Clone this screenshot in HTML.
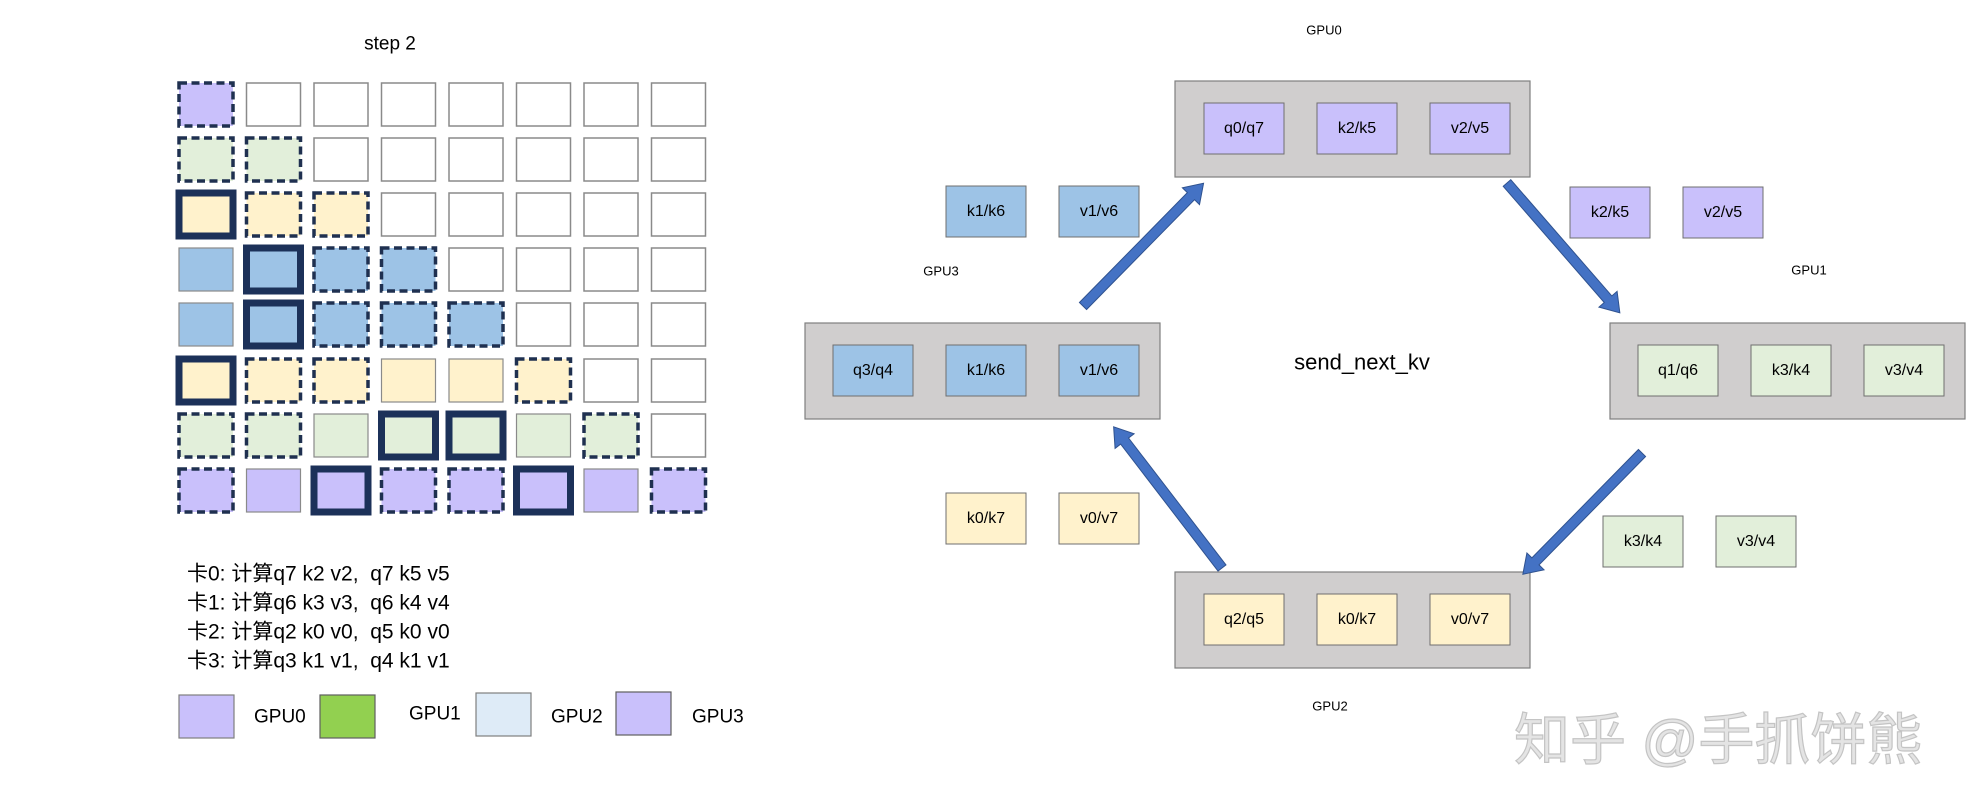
<!DOCTYPE html>
<html><head><meta charset="utf-8"><style>
html,body{margin:0;padding:0;background:#fff;}
svg{display:block;}
text{font-family:"Liberation Sans","Noto Sans CJK SC",sans-serif;fill:#000;}
</style></head><body>
<svg width="1984" height="811" viewBox="0 0 1984 811" xmlns="http://www.w3.org/2000/svg">
<defs>
<style>
.w{fill:#fff;stroke:#8a8a8a;stroke-width:1.5}
.n{stroke:#8a8a8a;stroke-width:1.2}
.d{stroke:#1f3050;stroke-width:3.5;stroke-dasharray:8 4.5}
.t{stroke:#1c3159;stroke-width:7}
.P{fill:#c9c0fb}.G{fill:#e2efda}.Y{fill:#fff2cc}.B{fill:#9dc3e6}
.gb{fill:#d0cece;stroke:#7f7f7f;stroke-width:1.2}
.ib{stroke:#6f6f6f;stroke-width:1}
.lbl{font-size:16px;text-anchor:middle;dominant-baseline:central}
.gl{font-size:13px;text-anchor:middle;dominant-baseline:central}
.ar{fill:#4472c4;stroke:#2f528f;stroke-width:1}
</style>
</defs>
<text x="390" y="44" font-size="19" text-anchor="middle" dominant-baseline="central">step 2</text>
<g>
<rect x="179" y="83" width="54" height="43" class="P d"/>
<rect x="246.5" y="83" width="54" height="43" class="w"/>
<rect x="314" y="83" width="54" height="43" class="w"/>
<rect x="381.5" y="83" width="54" height="43" class="w"/>
<rect x="449" y="83" width="54" height="43" class="w"/>
<rect x="516.5" y="83" width="54" height="43" class="w"/>
<rect x="584" y="83" width="54" height="43" class="w"/>
<rect x="651.5" y="83" width="54" height="43" class="w"/>
<rect x="179" y="138" width="54" height="43" class="G d"/>
<rect x="246.5" y="138" width="54" height="43" class="G d"/>
<rect x="314" y="138" width="54" height="43" class="w"/>
<rect x="381.5" y="138" width="54" height="43" class="w"/>
<rect x="449" y="138" width="54" height="43" class="w"/>
<rect x="516.5" y="138" width="54" height="43" class="w"/>
<rect x="584" y="138" width="54" height="43" class="w"/>
<rect x="651.5" y="138" width="54" height="43" class="w"/>
<rect x="179" y="193" width="54" height="43" class="Y t"/>
<rect x="246.5" y="193" width="54" height="43" class="Y d"/>
<rect x="314" y="193" width="54" height="43" class="Y d"/>
<rect x="381.5" y="193" width="54" height="43" class="w"/>
<rect x="449" y="193" width="54" height="43" class="w"/>
<rect x="516.5" y="193" width="54" height="43" class="w"/>
<rect x="584" y="193" width="54" height="43" class="w"/>
<rect x="651.5" y="193" width="54" height="43" class="w"/>
<rect x="179" y="248" width="54" height="43" class="B n"/>
<rect x="246.5" y="248" width="54" height="43" class="B t"/>
<rect x="314" y="248" width="54" height="43" class="B d"/>
<rect x="381.5" y="248" width="54" height="43" class="B d"/>
<rect x="449" y="248" width="54" height="43" class="w"/>
<rect x="516.5" y="248" width="54" height="43" class="w"/>
<rect x="584" y="248" width="54" height="43" class="w"/>
<rect x="651.5" y="248" width="54" height="43" class="w"/>
<rect x="179" y="303" width="54" height="43" class="B n"/>
<rect x="246.5" y="303" width="54" height="43" class="B t"/>
<rect x="314" y="303" width="54" height="43" class="B d"/>
<rect x="381.5" y="303" width="54" height="43" class="B d"/>
<rect x="449" y="303" width="54" height="43" class="B d"/>
<rect x="516.5" y="303" width="54" height="43" class="w"/>
<rect x="584" y="303" width="54" height="43" class="w"/>
<rect x="651.5" y="303" width="54" height="43" class="w"/>
<rect x="179" y="359" width="54" height="43" class="Y t"/>
<rect x="246.5" y="359" width="54" height="43" class="Y d"/>
<rect x="314" y="359" width="54" height="43" class="Y d"/>
<rect x="381.5" y="359" width="54" height="43" class="Y n"/>
<rect x="449" y="359" width="54" height="43" class="Y n"/>
<rect x="516.5" y="359" width="54" height="43" class="Y d"/>
<rect x="584" y="359" width="54" height="43" class="w"/>
<rect x="651.5" y="359" width="54" height="43" class="w"/>
<rect x="179" y="414" width="54" height="43" class="G d"/>
<rect x="246.5" y="414" width="54" height="43" class="G d"/>
<rect x="314" y="414" width="54" height="43" class="G n"/>
<rect x="381.5" y="414" width="54" height="43" class="G t"/>
<rect x="449" y="414" width="54" height="43" class="G t"/>
<rect x="516.5" y="414" width="54" height="43" class="G n"/>
<rect x="584" y="414" width="54" height="43" class="G d"/>
<rect x="651.5" y="414" width="54" height="43" class="w"/>
<rect x="179" y="469" width="54" height="43" class="P d"/>
<rect x="246.5" y="469" width="54" height="43" class="P n"/>
<rect x="314" y="469" width="54" height="43" class="P t"/>
<rect x="381.5" y="469" width="54" height="43" class="P d"/>
<rect x="449" y="469" width="54" height="43" class="P d"/>
<rect x="516.5" y="469" width="54" height="43" class="P t"/>
<rect x="584" y="469" width="54" height="43" class="P n"/>
<rect x="651.5" y="469" width="54" height="43" class="P d"/>
</g>
<g font-size="21">
<text x="187" y="574" dominant-baseline="central">卡0: 计算q7 k2 v2,&#160; q7 k5 v5</text>
<text x="187" y="603" dominant-baseline="central">卡1: 计算q6 k3 v3,&#160; q6 k4 v4</text>
<text x="187" y="632" dominant-baseline="central">卡2: 计算q2 k0 v0,&#160; q5 k0 v0</text>
<text x="187" y="661" dominant-baseline="central">卡3: 计算q3 k1 v1,&#160; q4 k1 v1</text>
</g>
<rect x="179" y="695" width="55" height="43" fill="#c9c0fb" stroke="#7f7f7f" stroke-width="1.2"/>
<text x="254" y="717" font-size="19" dominant-baseline="central">GPU0</text>
<rect x="320" y="695" width="55" height="43" fill="#92d050" stroke="#5f5f5f" stroke-width="1.2"/>
<text x="409" y="714" font-size="19" dominant-baseline="central">GPU1</text>
<rect x="476" y="693" width="55" height="43" fill="#deebf7" stroke="#7f7f7f" stroke-width="1.2"/>
<text x="551" y="717" font-size="19" dominant-baseline="central">GPU2</text>
<rect x="616" y="692" width="55" height="43" fill="#c9c0fb" stroke="#5f5f5f" stroke-width="1.2"/>
<text x="692" y="717" font-size="19" dominant-baseline="central">GPU3</text>

<text x="1324" y="30" class="gl">GPU0</text>
<text x="941" y="271" class="gl">GPU3</text>
<text x="1809" y="270" class="gl">GPU1</text>
<text x="1330" y="706" class="gl">GPU2</text>
<text x="1362" y="362" font-size="22" text-anchor="middle" dominant-baseline="central">send_next_kv</text>

<rect x="1175" y="81" width="355" height="96" class="gb"/>
<rect x="1204" y="103" width="80" height="51" class="P ib"/><text x="1244" y="128.5" class="lbl">q0/q7</text>
<rect x="1317" y="103" width="80" height="51" class="P ib"/><text x="1357" y="128.5" class="lbl">k2/k5</text>
<rect x="1430" y="103" width="80" height="51" class="P ib"/><text x="1470" y="128.5" class="lbl">v2/v5</text>
<rect x="805" y="323" width="355" height="96" class="gb"/>
<rect x="833" y="345" width="80" height="51" class="B ib"/><text x="873" y="370.5" class="lbl">q3/q4</text>
<rect x="946" y="345" width="80" height="51" class="B ib"/><text x="986" y="370.5" class="lbl">k1/k6</text>
<rect x="1059" y="345" width="80" height="51" class="B ib"/><text x="1099" y="370.5" class="lbl">v1/v6</text>
<rect x="1610" y="323" width="355" height="96" class="gb"/>
<rect x="1638" y="345" width="80" height="51" class="G ib"/><text x="1678" y="370.5" class="lbl">q1/q6</text>
<rect x="1751" y="345" width="80" height="51" class="G ib"/><text x="1791" y="370.5" class="lbl">k3/k4</text>
<rect x="1864" y="345" width="80" height="51" class="G ib"/><text x="1904" y="370.5" class="lbl">v3/v4</text>
<rect x="1175" y="572" width="355" height="96" class="gb"/>
<rect x="1204" y="594" width="80" height="51" class="Y ib"/><text x="1244" y="619.5" class="lbl">q2/q5</text>
<rect x="1317" y="594" width="80" height="51" class="Y ib"/><text x="1357" y="619.5" class="lbl">k0/k7</text>
<rect x="1430" y="594" width="80" height="51" class="Y ib"/><text x="1470" y="619.5" class="lbl">v0/v7</text>
<rect x="946" y="186" width="80" height="51" class="B ib"/><text x="986" y="211.5" class="lbl">k1/k6</text>
<rect x="1059" y="186" width="80" height="51" class="B ib"/><text x="1099" y="211.5" class="lbl">v1/v6</text>
<rect x="1570" y="187" width="80" height="51" class="P ib"/><text x="1610" y="212.5" class="lbl">k2/k5</text>
<rect x="1683" y="187" width="80" height="51" class="P ib"/><text x="1723" y="212.5" class="lbl">v2/v5</text>
<rect x="946" y="493" width="80" height="51" class="Y ib"/><text x="986" y="518.5" class="lbl">k0/k7</text>
<rect x="1059" y="493" width="80" height="51" class="Y ib"/><text x="1099" y="518.5" class="lbl">v0/v7</text>
<rect x="1603" y="516" width="80" height="51" class="G ib"/><text x="1643" y="541.5" class="lbl">k3/k4</text>
<rect x="1716" y="516" width="80" height="51" class="G ib"/><text x="1756" y="541.5" class="lbl">v3/v4</text>

<g transform="translate(1083,306) rotate(-45.5)"><polygon class="ar" points="0,-5 154,-5 154,-12 172,0 154,12 154,5 0,5"/></g>
<g transform="translate(1507,183) rotate(49)"><polygon class="ar" points="0,-5 154,-5 154,-12 172,0 154,12 154,5 0,5"/></g>
<g transform="translate(1642,453) rotate(134.5)"><polygon class="ar" points="0,-5 152,-5 152,-12 170,0 152,12 152,5 0,5"/></g>
<g transform="translate(1222,568) rotate(-127.5)"><polygon class="ar" points="0,-5 160,-5 160,-12 178,0 160,12 160,5 0,5"/></g>

<text x="1514" y="740" font-size="56" dominant-baseline="central" style="fill:#e4e4e4;stroke:#c4c4c4;stroke-width:1.2">知乎 @手抓饼熊</text>
</svg>
</body></html>
